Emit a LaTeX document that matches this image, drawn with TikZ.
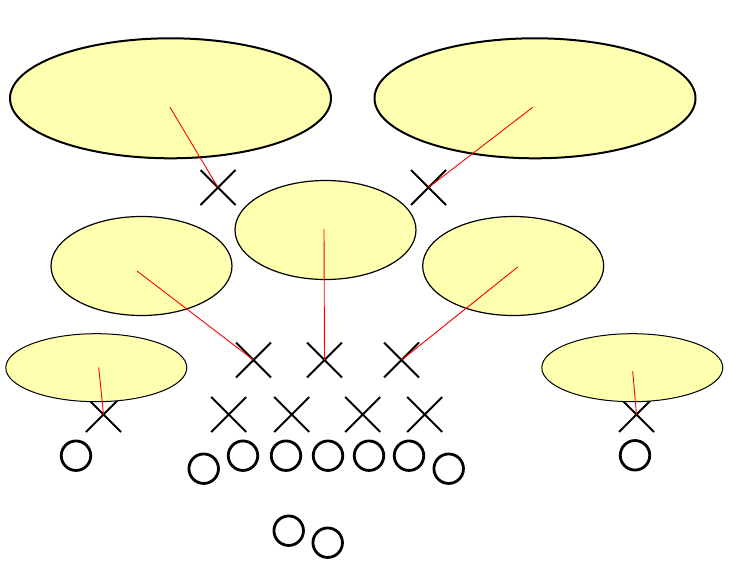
\documentclass[tikz,border=0pt]{standalone}
\usetikzlibrary{shapes.geometric,shapes.misc}
\definecolor{ellfill}{HTML}{FFFFB0}
\tikzset{
  xmark/.style={cross out,draw=black,line width=2pt,minimum size=33pt,inner sep=0pt},
  ring/.style={circle,draw=black,line width=2.8pt,minimum size=29.5pt,inner sep=0pt},
  bigell/.style={ellipse,draw=black,fill=ellfill,line width=2pt,minimum width=321pt,minimum height=120pt,inner sep=0pt},
  midell/.style={ellipse,draw=black,fill=ellfill,line width=1.2pt,minimum width=181pt,minimum height=99pt,inner sep=0pt},
  lowell/.style={ellipse,draw=black,fill=ellfill,line width=1pt,minimum width=181pt,minimum height=68pt,inner sep=0pt},
  link/.style={draw=red,line width=0.9pt}
}
\begin{document}
\begin{tikzpicture}[x=1pt,y=-1pt]
\useasboundingbox (0,0) rectangle (729,570);
% X marks
\node[xmark] (xa) at (218,187.5) {};
\node[xmark] (xb) at (428.5,187.5) {};
\node[xmark] (xc) at (253.5,360) {};
\node[xmark] (xd) at (324.5,360) {};
\node[xmark] (xe) at (401.5,360) {};
\node[xmark] (xf) at (103.5,414.5) {};
\node[xmark] (xg) at (228.7,414.5) {};
\node[xmark] (xh) at (291.7,414.5) {};
\node[xmark] (xi) at (362.7,414.5) {};
\node[xmark] (xj) at (424.7,414.5) {};
\node[xmark] (xk) at (636.5,414.5) {};
% ellipses
\node[bigell] (ea) at (170.5,98.3) {};
\node[bigell] (eb) at (535,98.3) {};
\node[midell] (ec) at (325.5,230) {};
\node[midell] (ed) at (141.5,266) {};
\node[midell] (ee) at (513.2,266) {};
\node[lowell] (ef) at (96.3,367.7) {};
\node[lowell] (eg) at (632.3,367.7) {};
% link start points
\coordinate (sa) at (170,107.3);
\coordinate (sb) at (532.7,107.3);
\coordinate (sc) at (324,229);
\coordinate (sd) at (137,271);
\coordinate (se) at (517.7,267);
\coordinate (sf) at (98.7,367.3);
\coordinate (sg) at (632.7,371);
% red links
\draw[link] (sa) -- (xa.center);
\draw[link] (sb) -- (xb.center);
\draw[link] (sc) -- (xd.center);
\draw[link] (sd) -- (xc.center);
\draw[link] (se) -- (xe.center);
\draw[link] (sf) -- (xf.center);
\draw[link] (sg) -- (xk.center);
% circles
\node[ring] (o1) at (76,455.7) {};
\node[ring] (o2) at (203.7,468.7) {};
\node[ring] (o3) at (243,455.7) {};
\node[ring] (o4) at (286,455.7) {};
\node[ring] (o5) at (328,455.7) {};
\node[ring] (o6) at (369,455.7) {};
\node[ring] (o7) at (409,455.7) {};
\node[ring] (o8) at (448.7,468.7) {};
\node[ring] (o9) at (288.7,530.7) {};
\node[ring] (o10) at (327.7,542.7) {};
\node[ring] (o11) at (635,455.3) {};
\end{tikzpicture}
\end{document}
